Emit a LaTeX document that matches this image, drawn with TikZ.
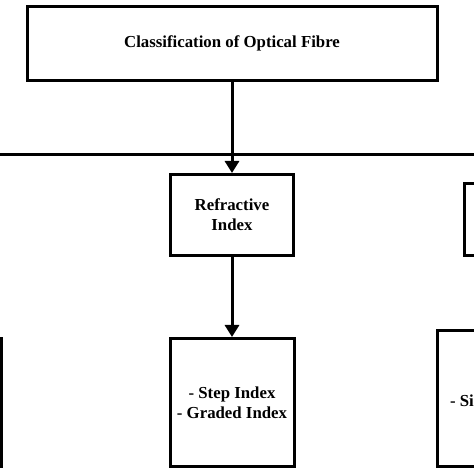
\documentclass[tikz,border=0pt]{standalone}
\usepackage{fontspec}
\setmainfont{Liberation Serif}
\usetikzlibrary{arrows.meta}

\begin{document}
\begin{tikzpicture}[x=1pt, y=1pt,
    box/.style={draw, line width=3pt, align=center, inner sep=0pt,
      font=\bfseries\fontsize{16.8}{20}\selectfont},
    link/.style={line width=3pt, -{Triangle[width=14pt,length=12pt]}},
    bar/.style={line width=3pt}
  ]
  \useasboundingbox (0,0) rectangle (474,474);
  \clip (0,0) rectangle (474,474);

  % root
  \node[box, minimum width=410pt, minimum height=74pt] (root) at (232,430.5)
    {Classification of Optical Fibre};

  % second level
  \node[box, minimum width=123pt, minimum height=81pt] (refr) at (232,259)
    {Refractive\\Index};
  \node[box, minimum width=123pt, minimum height=72pt] (mode) at (526,254.5) {};

  % third level
  \node[box, minimum width=124pt, minimum height=128pt] (mat) at (-61,71.5) {};
  \node[box, minimum width=124pt, minimum height=128pt] (types) at (232,71.5)
    {- Step Index\\- Graded Index};
  \node[box, minimum width=124pt, minimum height=136pt] (modes) at (499.5,75.5)
    {~\\- Single Mode};

  % branch line
  \coordinate (bl) at (-10,319);
  \coordinate (br) at (484,319);
  \draw[bar] (bl) -- (br);

  \draw[link] (root.south) -- (refr.north);
  \draw[link] (refr.south) -- (types.north);
\end{tikzpicture}
\end{document}
